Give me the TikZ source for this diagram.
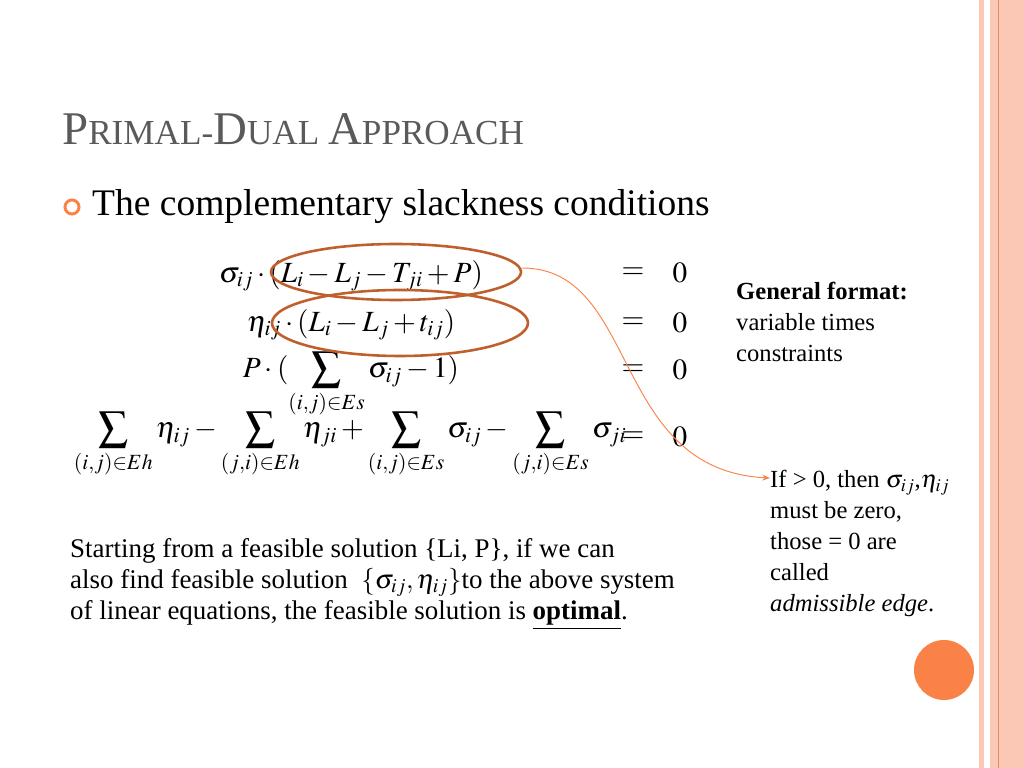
\documentclass[tikz,border=0pt]{standalone}
\usepackage{mathptmx}
\usepackage{fontspec}
\setmainfont{Liberation Serif}
\usetikzlibrary{positioning, arrows.meta}
\definecolor{stripe}{RGB}{250,200,180}
\definecolor{stripedark}{RGB}{225,140,100}
\definecolor{ringbrown}{RGB}{190,95,45}
\definecolor{accent}{RGB}{250,130,70}
\definecolor{titlegray}{RGB}{90,90,90}
\newcommand{\titlecap}[1]{{\fontsize{40}{44}\selectfont #1}}
\begin{document}
\begin{tikzpicture}[
        x=0.03cm, y=-0.03cm,
        >=Stealth,
        eqn/.style={font=\fontsize{25}{30}\selectfont, inner sep=0pt},
        body/.style={font=\fontsize{23}{26.5}\selectfont, align=left, inner sep=0pt},
        ring/.style={draw=ringbrown, line width=2.2pt},
    ]
    \useasboundingbox (0,0) rectangle (1024,768);

    % Side stripes
    \fill[stripe] (979,0) rectangle (984,768);
    \fill[stripe] (990,0) rectangle (1024,768);
    \draw[stripedark, line width=0.6pt] (998,0) -- (998,768);

    % Title and bullet
    \node[anchor=base west, text=titlegray, font=\fontsize{30}{40}\selectfont, inner sep=0pt] (title) at (62,145) {\titlecap{P}RIMAL-\titlecap{D}UAL \titlecap{A}PPROACH};
    \node[circle, draw=accent, line width=2.5pt, minimum size=12pt, inner sep=0pt] (bullet) at (72,207) {};
    \node[anchor=west, font=\fontsize{32}{36}\selectfont, inner sep=0pt] (head) at (92,207) {The complementary slackness conditions};

    % Equations
    \node[eqn] (eq1) at (351,276) {$\sigma_{ij}\cdot(L_i - L_j - T_{ji} + P)$};
    \node[eqn] (eq2) at (351,325) {$\eta_{ij}\cdot(L_i - L_j + t_{ij})$};
    \node[eqn, anchor=north] (eq3) at (351,352) {$P\cdot(\displaystyle\sum_{(i,j)\in Es}\sigma_{ij} - 1)$};
    \node[eqn, anchor=north] (eq4) at (350,412) {$\displaystyle\sum_{(i,j)\in Eh}\eta_{ij} - \sum_{(j,i)\in Eh}\eta_{ji} + \sum_{(i,j)\in Es}\sigma_{ij} - \sum_{(j,i)\in Es}\sigma_{ji}$};
    \foreach \name / \y in {1/273, 2/323, 3/370, 4/437} {
        \node[eqn] (eqs-\name) at (633,\y) {$=$};
        \node[eqn] (zero-\name) at (680,\y) {$0$};
    }

    % Rings around the constraints
    \draw[ring] (396,272) ellipse (125 and 28);
    \draw[ring] (400,323) ellipse (128 and 33);

    % Side notes
    \node[body, anchor=north west, font=\fontsize{21}{26.5}\selectfont] (format) at (736,282) {\textbf{General format:}\\variable times\\constraints};
    \node[body, anchor=north west, font=\fontsize{21}{26.5}\selectfont] (note) at (770,470) {If > 0, then $\sigma_{ij}$,$\eta_{ij}$\\must be zero,\\those = 0 are\\called\\\textit{admissible edge}.};
    \coordinate (ring-end) at (522,268);
    \draw[->, accent, line width=0.8pt] (ring-end) .. controls (640,268) and (610,470) .. (note.west |- 0,478);

    % Bottom text
    \node[body, anchor=north west] (start) at (70,538) {Starting from a feasible solution \{Li, P\}, if we can\\also find feasible solution \ $\{\sigma_{ij},\eta_{ij}\}$to the above system\\of linear equations, the feasible solution is \underline{\textbf{optimal}}.};

    % Corner dot
    \fill[accent] (944,670) circle (30);
\end{tikzpicture}
\end{document}
